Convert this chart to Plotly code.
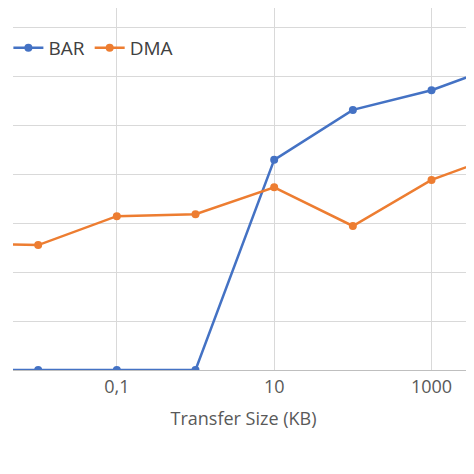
import plotly.graph_objects as go

sizes = [0.001, 0.01, 0.1, 1, 10, 100, 1000, 10000]
bar = [0, 0, 0, 0, 4.29, 5.31, 5.71, 6.3]
dma = [2.59, 2.55, 3.14, 3.18, 3.73, 2.94, 3.88, 4.47]
tickvals = [0.001, 0.1, 10, 1000]
ticktext = ["0,001", "0,1", "10", "1000"]

fig = go.Figure()
fig.add_trace(go.Scatter(x=sizes, y=bar, name="BAR", mode="lines+markers",
                         line=dict(color="#4472C4", width=2.5), marker=dict(size=8)))
fig.add_trace(go.Scatter(x=sizes, y=dma, name="DMA", mode="lines+markers",
                         line=dict(color="#ED7D31", width=2.5), marker=dict(size=8)))
fig.update_layout(
    width=466, height=466, margin=dict(l=0, r=0, t=0, b=104),
    plot_bgcolor="white", paper_bgcolor="white",
    font=dict(family="Open Sans", color="#595959", size=18),
    legend=dict(orientation="h", x=-0.01, y=0.89, xanchor="left", yanchor="middle",
                font=dict(size=19, color="#404040"), bgcolor="rgba(0,0,0,0)"),
    xaxis=dict(type="log", range=[-2.32, 3.54], tickvals=tickvals, ticktext=ticktext,
               showgrid=True, gridcolor="#D9D9D9", showline=True, linecolor="#BFBFBF",
               title=dict(text="Transfer Size (KB)", font=dict(size=18, color="#595959")),
               ticks="", zeroline=False),
    yaxis=dict(range=[0, 7.39], dtick=1, showgrid=True, gridcolor="#D9D9D9",
               showticklabels=False, zeroline=False),
)
fig.write_html("out.html")
